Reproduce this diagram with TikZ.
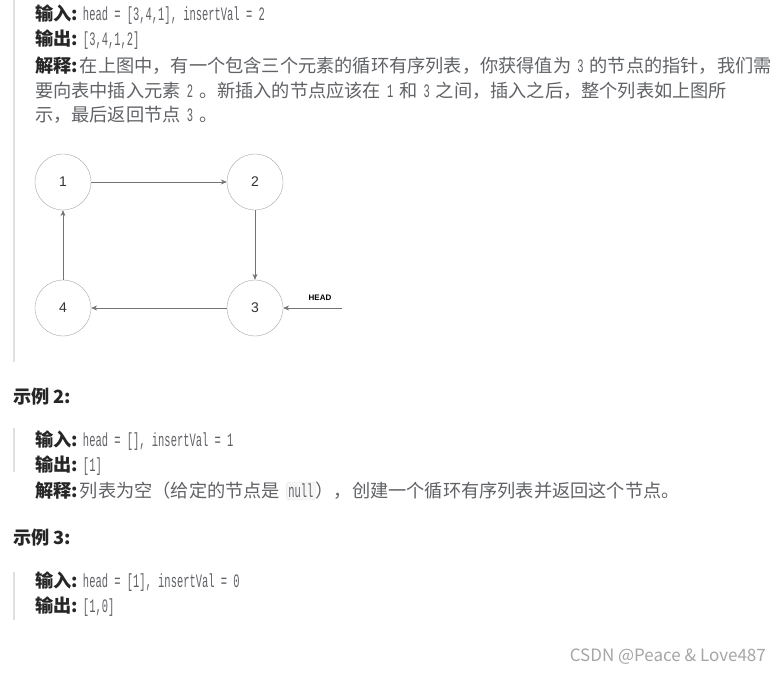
\documentclass[tikz,border=0pt]{standalone}
\usepackage{fontspec}
\setmainfont{Noto Sans CJK SC}
\newfontfamily\mono{Liberation Mono}[FakeStretch=0.55]
\newfontfamily\sans{Liberation Sans}
\usetikzlibrary{arrows.meta}
\definecolor{gr}{HTML}{606266}
\tikzset{
  ln/.style={anchor=west,inner sep=0pt,font=\fontsize{18.2}{20}\selectfont,text=gr},
  circ/.style={circle,draw=gray!70,minimum size=56pt,inner sep=0pt,font=\sans\fontsize{14}{16}\selectfont,text=black!80},
  arr/.style={-{Stealth[length=6pt,width=5pt]},draw=gray!90!black,line width=0.7pt},
  bar/.style={draw=black!12,line width=2pt}
}
\newcommand{\bb}[1]{{\bfseries\color{black!85}#1}}
\newcommand{\mm}[1]{{\mono\fontsize{19}{20}\selectfont #1}}
\newcommand{\sm}[1]{\hspace{6pt}\mm{#1}\hspace{6pt}}
\begin{document}
\begin{tikzpicture}[x=1pt,y=-1pt]
\useasboundingbox[fill=white] (0,0) rectangle (780,674);
\draw[bar] (14,0) -- (14,362);
\draw[bar] (14,428) -- (14,472);
\draw[bar] (14,572) -- (14,620);
\node[ln] (l1) at (35,15) {\bb{输入:}\hspace{5pt}\mm{head = [3,4,1], insertVal = 2}};
\node[ln] (l2) at (35,40) {\bb{输出:}\hspace{5pt}\mm{[3,4,1,2]}};
\node[ln] (l3) at (35,66) {\bb{解释:}\hspace{2pt}在上图中，有一个包含三个元素的循环有序列表，你获得值为\sm{3}的节点的指针，我们需};
\node[ln] (l4) at (35,91) {要向表中插入元素\sm{2}。新插入的节点应该在\sm{1}和\sm{3}之间，插入之后，整个列表如上图所};
\node[ln] (l5) at (35,115) {示，最后返回节点\sm{3}。};
\node[circ] (n1) at (63,182) {1};
\node[circ] (n2) at (255,182) {2};
\node[circ] (n3) at (255,308) {3};
\node[circ] (n4) at (63,308) {4};
\coordinate (h) at (342,308);
\node[inner sep=0pt,font=\sans\bfseries\fontsize{8}{9}\selectfont] (ht) at (320,298) {HEAD};
\draw[arr] (n1) -- (n2);
\draw[arr] (n2) -- (n3);
\draw[arr] (n3) -- (n4);
\draw[arr] (n4) -- (n1);
\draw[arr] (h) -- (n3);
\node[ln,text=black!85] (e2) at (13,397) {\bfseries 示例 2:};
\node[ln] (m1) at (35,441) {\bb{输入:}\hspace{5pt}\mm{head = [], insertVal = 1}};
\node[ln] (m2) at (35,466) {\bb{输出:}\hspace{5pt}\mm{[1]}};
\node[ln] (m3) at (35,491) {\bb{解释:}\hspace{2pt}列表为空（给定的节点是\hspace{6pt}\tikz[baseline=(c.base)]\node[draw=black!10,fill=black!3,rounded corners=3pt,inner sep=2pt] (c) {\mm{null}};），创建一个循环有序列表并返回这个节点。};
\node[ln,text=black!85] (e3) at (13,538) {\bfseries 示例 3:};
\node[ln] (k1) at (35,582) {\bb{输入:}\hspace{5pt}\mm{head = [1], insertVal = 0}};
\node[ln] (k2) at (35,607) {\bb{输出:}\hspace{5pt}\mm{[1,0]}};
\node[anchor=east,inner sep=0pt,font=\fontsize{17}{18}\selectfont,text=black!35] (w) at (766,657) {CSDN @Peace \& Love487};
\end{tikzpicture}
\end{document}
